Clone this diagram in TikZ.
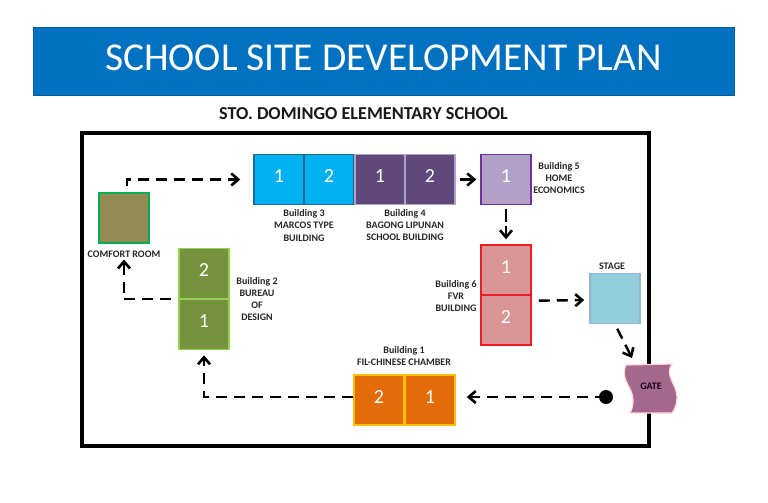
\documentclass[tikz,border=0pt]{standalone}
\usepackage{fontspec}
\setmainfont{Carlito}
\usetikzlibrary{arrows.meta}
\definecolor{titleblue}{HTML}{0070C0}
\definecolor{gatefill}{HTML}{A3688C}
\definecolor{comfortfill}{HTML}{948A54}
\definecolor{comfortline}{HTML}{00B050}
\definecolor{bthreefill}{HTML}{00B0F0}
\definecolor{bthreeline}{HTML}{1F6B8E}
\definecolor{bfourfill}{HTML}{5F497A}
\definecolor{bfourline}{HTML}{B3A2C7}
\definecolor{bfivefill}{HTML}{B2A1C7}
\definecolor{bfiveline}{HTML}{7030A0}
\definecolor{bsixfill}{HTML}{D99694}
\definecolor{bsixline}{HTML}{EE1C25}
\definecolor{stagefill}{HTML}{92CDDC}
\definecolor{stageline}{HTML}{95B3D7}
\definecolor{btwofill}{HTML}{76923C}
\definecolor{btwoline}{HTML}{92D050}
\definecolor{bonefill}{HTML}{E36C09}
\definecolor{boneline}{HTML}{FFC000}
\newcommand{\roomno}[1]{\raisebox{6pt}{#1}}
\tikzset{
	room/.style={draw=#1,line width=1.5pt,minimum width=50pt,minimum height=50pt,inner sep=0pt,text=white,font=\fontsize{20}{20}\selectfont},
	tag/.style={inner sep=0pt,align=center,text=black!85,font=\fontsize{10}{12}\selectfont\bfseries},
	flow/.style={line width=2.4pt,dash pattern=on 11pt off 7pt,-{Straight Barb[length=7pt,width=12pt,line width=2.6pt]}}
}
\begin{document}
\begin{tikzpicture}[x=1pt,y=-1pt]
	\useasboundingbox (0,0) rectangle (768,503);
	\node[draw=titleblue!80!black,fill=titleblue,minimum width=701pt,minimum height=68pt,inner sep=0pt,text=white,font=\fontsize{39.5}{39.5}\selectfont] (title) at (383.5,61) {\raisebox{6pt}{SCHOOL SITE DEVELOPMENT PLAN}};
	\node[inner sep=0pt,text=black!90,font=\fontsize{18.2}{18.2}\selectfont\bfseries] (school) at (363.5,114) {STO. DOMINGO ELEMENTARY SCHOOL};
	\draw[line width=4.5pt] (82,133) rectangle (649,446);

	% comfort room
	\node[room=comfortline,fill=comfortfill] (comfort) at (124,218) {};
	\node[tag] (comforttag) at (124,254) {COMFORT ROOM};

	% buildings
	\node[room=bthreeline,fill=bthreefill] (b3a) at (279,179.5) {\roomno{1}};
	\node[room=bthreeline,fill=bthreefill] (b3b) at (329,179.5) {\roomno{2}};
	\node[tag] (b3tag) at (304,226) {Building 3\\MARCOS TYPE\\[1pt]BUILDING};

	\node[room=bfourline,fill=bfourfill] (b4a) at (380,179.5) {\roomno{1}};
	\node[room=bfourline,fill=bfourfill] (b4b) at (430,179.5) {\roomno{2}};
	\node[tag] (b4tag) at (405,225) {Building 4\\BAGONG LIPUNAN\\SCHOOL BUILDING};

	\node[room=bfiveline,fill=bfivefill] (b5) at (506,179.5) {\roomno{1}};
	\node[tag] (b5tag) at (559,178) {Building 5\\HOME\\ECONOMICS};

	\node[room=bsixline,fill=bsixfill] (b6a) at (506,270) {\roomno{1}};
	\node[room=bsixline,fill=bsixfill] (b6b) at (506,320) {\roomno{2}};
	\node[tag] (b6tag) at (456,296) {Building 6\\FVR\\BUILDING};

	\node[room=stageline,fill=stagefill] (stage) at (615,298.5) {};
	\node[tag] (stagetag) at (612,266) {STAGE};

	\node[room=btwoline,fill=btwofill] (b2a) at (204,273.5) {\roomno{2}};
	\node[room=btwoline,fill=btwofill] (b2b) at (204,324.5) {\roomno{1}};
	\node[tag] (b2tag) at (257,299) {Building 2\\BUREAU\\OF\\DESIGN};

	\node[room=boneline,fill=bonefill] (b1a) at (379,400) {\roomno{2}};
	\node[room=boneline,fill=bonefill] (b1b) at (430,400) {\roomno{1}};
	\node[tag] (b1tag) at (404,356) {Building 1\\FIL-CHINESE CHAMBER};

	% gate
	\draw[draw=red!15!white,fill=gatefill,line width=1.2pt] (626,365) -- (672,364) .. controls (664,375) and (677,385) .. (677,397) .. controls (677,404) and (675,409) .. (672,413) -- (630,413) .. controls (636,402) and (632,392) .. (628,385) .. controls (624,378) and (623,371) .. (626,365) -- cycle;
	\node[tag,text=black!80!violet] (gate) at (651,386) {GATE};
	\fill (606,397) circle (7pt);
	\coordinate (dot) at (606,397);
	\coordinate (gatetop) at (632,358);

	% route
	\draw[flow,shorten >=13pt,shorten <=6pt] ([xshift=3pt]comfort.north) |- (b3a.west);
	\draw[flow,shorten >=2pt,shorten <=7pt] (b2a.south west) -| (comforttag.south);
	\draw[flow,dash pattern=on 14pt off 3pt,shorten >=4pt,shorten <=4pt] (b4b.east |- b5.west) -- (b5.west);
	\draw[flow,shorten >=5pt,shorten <=4pt,dash pattern=on 13pt off 4pt] (b5.south) -- (b6a.north);
	\draw[flow,shorten >=5pt,shorten <=7pt] (b6a.south east) ++(0,5) -- (stage.west |- 0,300);
	\draw[flow,shorten <=5pt] (stage.south) -- (gatetop);
	\draw[flow,shorten >=11pt] (dot) -- (b1b.east |- dot);
	\draw[flow,shorten >=5pt] (b1a.west |- dot) -| (b2b.south);
\end{tikzpicture}
\end{document}
